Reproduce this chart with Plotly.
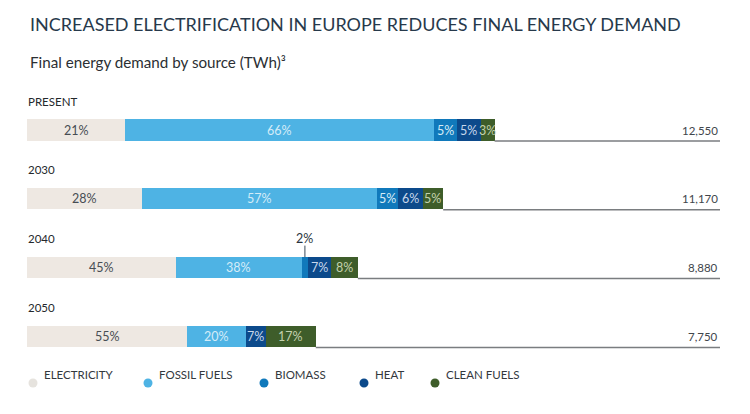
import plotly.graph_objects as go

# ---------------- data ----------------
periods = ["PRESENT", "2030", "2040", "2050"]
totals_twh = [12550, 11170, 8880, 7750]
sources = ["ELECTRICITY", "FOSSIL FUELS", "BIOMASS", "HEAT", "CLEAN FUELS"]
electricity_pct = [21, 28, 45, 55]
fossil_pct = [66, 57, 38, 20]
biomass_pct = [5, 5, 2, 0]
heat_pct = [5, 6, 7, 7]
clean_pct = [3, 5, 8, 17]

# ---------------- styles ----------------
series = [electricity_pct, fossil_pct, biomass_pct, heat_pct, clean_pct]
bar_colors = ["#eee8e2", "#4eb3e4", "#1079bb", "#0c4a8b", "#3e5d2a"]
label_colors = ["#474d53", "#d4ecf8", "#d6ebf7", "#c8d8ec", "#c4d2ae"]
FONT = "Lato"
XMAX = 18600
ROW_PX = 68.8
bar_w = 0.31

rows = list(range(len(periods)))
sums = [sum(s[i] for s in series) for i in rows]
# segment lengths in TWh (share of the period total)
seg = [[s[i] / sums[i] * totals_twh[i] for i in rows] for s in series]

fig = go.Figure()
for k, name in enumerate(sources):
    fig.add_trace(go.Bar(
        y=rows, x=seg[k], orientation="h", name=name,
        marker=dict(color=bar_colors[k], line=dict(width=0)),
        width=bar_w, hoverinfo="skip", showlegend=False,
    ))

annotations = []
shapes = []
for i in rows:
    start = 0.0
    for k in range(len(sources)):
        w = seg[k][i]
        pct = series[k][i]
        if pct > 0:
            cx = start + w / 2
            if w * (693 / XMAX) < 10:
                # small slice: label above with leader line
                annotations.append(dict(x=cx, y=i, yshift=29.5, text=f"{pct}%", showarrow=False,
                                        font=dict(family=FONT, size=12.5, color="#2a3440")))
                shapes.append(dict(type="line", x0=cx, x1=cx, y0=i - 10.5 / ROW_PX, y1=i - 22 / ROW_PX,
                                   line=dict(color="#3a4a5a", width=1)))
            else:
                annotations.append(dict(x=cx, y=i, text=f"{pct}%", showarrow=False,
                                        font=dict(family=FONT, size=12.5, color=label_colors[k])))
        start += w
    # period label
    annotations.append(dict(x=0, y=i, yshift=29, xanchor="left", xshift=-1, text=periods[i], showarrow=False,
                            font=dict(family=FONT, size=11.5, color="#24282c")))
    # total value
    annotations.append(dict(x=XMAX, y=i, xanchor="right", text=f"{totals_twh[i]:,}", showarrow=False,
                            font=dict(family=FONT, size=11.5, color="#41464c")))
    # baseline from bar end to right edge
    shapes.append(dict(type="line", x0=totals_twh[i], x1=XMAX, y0=i + 11 / ROW_PX, y1=i + 11 / ROW_PX,
                       line=dict(color="#7a7d80", width=1.5)))

# legend (manual)
L, R, T, B = 27, 30, 85, 54
pw, ph = 750 - L - R, 414 - T - B
legend_dot_px = [33, 148, 264, 364, 435]
leg_y = (414 - B - 383) / ph
for k, name in enumerate(sources):
    px = (legend_dot_px[k] - L) / pw
    shapes.append(dict(type="circle", xref="paper", yref="paper", xsizemode="pixel", ysizemode="pixel",
                       xanchor=px, yanchor=leg_y, x0=-4.5, x1=4.5, y0=-4.5, y1=4.5,
                       fillcolor=bar_colors[k] if k else "#e6e3de", line=dict(width=0)))
    annotations.append(dict(xref="paper", yref="paper", x=px, y=leg_y, xshift=9, xanchor="left",
                            text=name, showarrow=False,
                            font=dict(family=FONT, size=11.5, color="#33383d")))

# title + subtitle
annotations.append(dict(xref="paper", yref="paper", x=(28 - L) / pw, y=(414 - B - 24) / ph, xanchor="left",
                        yanchor="middle", showarrow=False,
                        text="INCREASED ELECTRIFICATION IN EUROPE REDUCES FINAL ENERGY DEMAND",
                        font=dict(family=FONT, size=18, color="#27394b")))
annotations.append(dict(xref="paper", yref="paper", x=(28 - L) / pw, y=(414 - B - 62) / ph, xanchor="left",
                        yanchor="middle", showarrow=False,
                        text="Final energy demand by source (TWh)³",
                        font=dict(family=FONT, size=15.2, color="#2b2f33")))

top = -45 / ROW_PX
fig.update_layout(
    width=750, height=414, margin=dict(l=L, r=R, t=T, b=B),
    barmode="stack", bargap=0,
    paper_bgcolor="white", plot_bgcolor="white",
    xaxis=dict(range=[0, XMAX], visible=False, fixedrange=True),
    yaxis=dict(range=[top + ph / ROW_PX, top], visible=False, fixedrange=True),
    annotations=annotations, shapes=shapes, showlegend=False,
)
fig.write_html("out.html")
